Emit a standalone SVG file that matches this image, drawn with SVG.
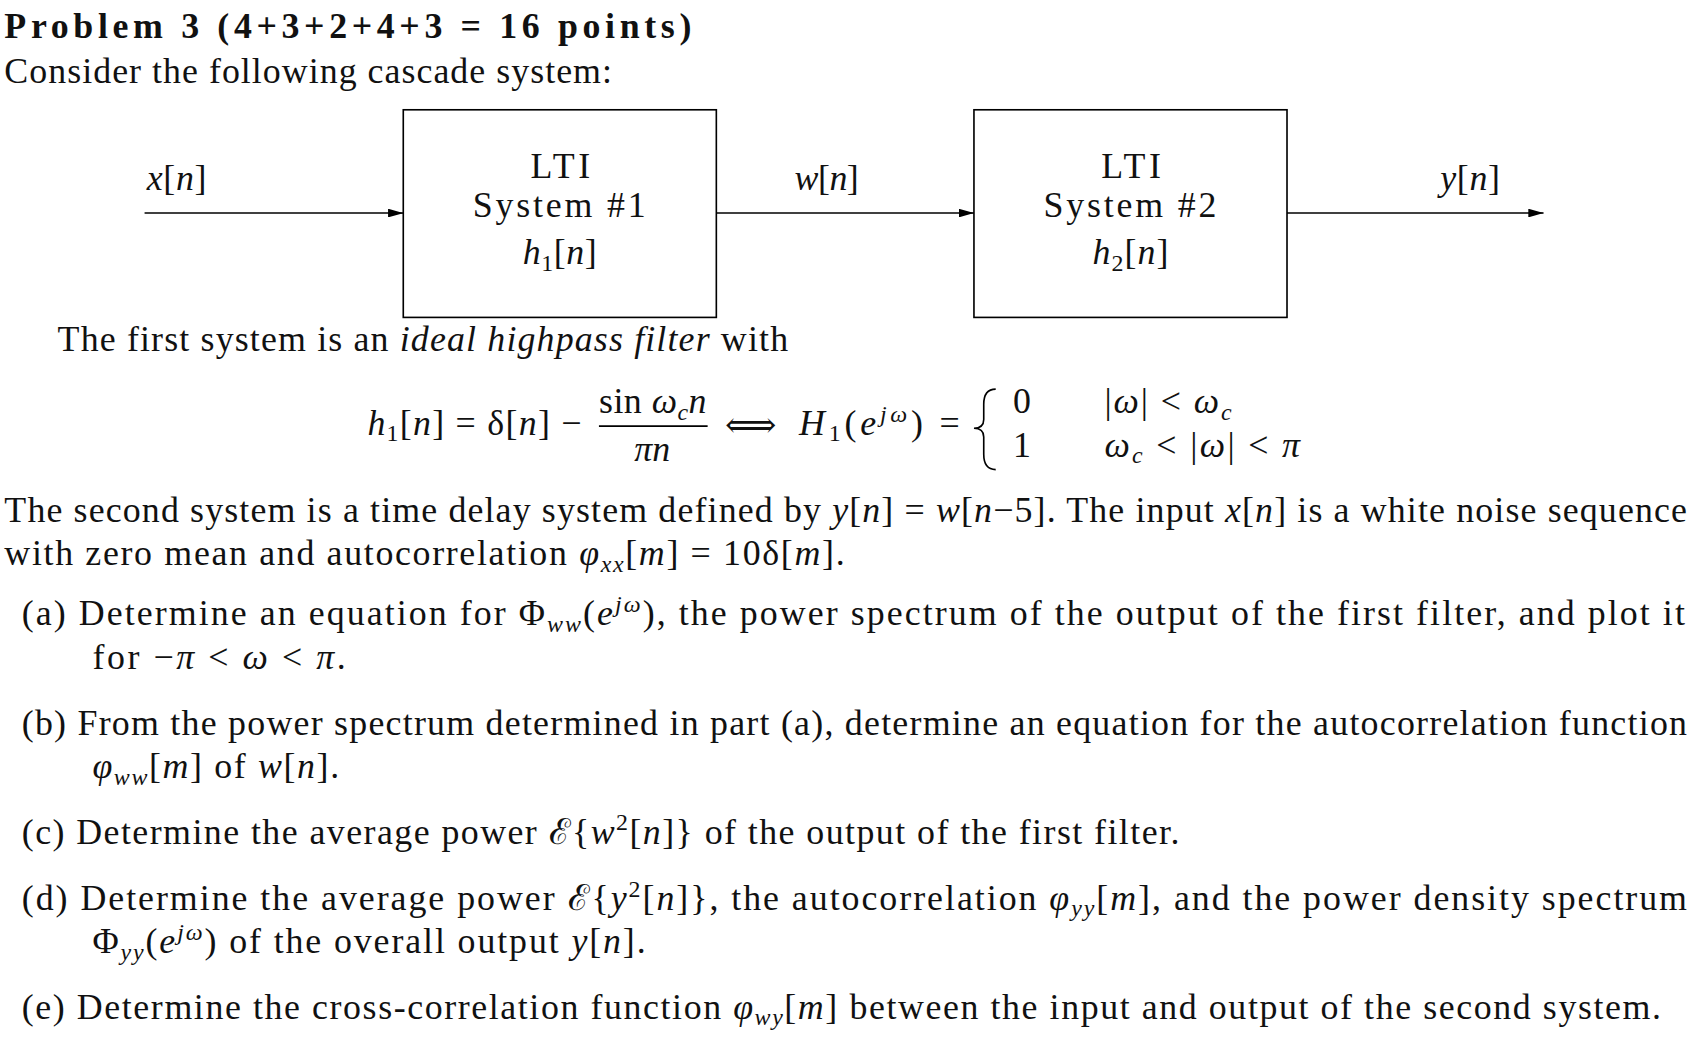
<svg xmlns="http://www.w3.org/2000/svg" width="1700" height="1037" viewBox="0 0 1700 1037">
<style>
text{font-family:"Liberation Serif","DejaVu Serif",serif;font-size:33px;fill:#111}
.i{font-style:italic}
.s{font-size:22px}
.b{font-weight:bold}
.box{fill:none;stroke:#000;stroke-width:1.5}
.ln{stroke:#000;stroke-width:1.5;fill:none}
</style>
<defs><marker id="ah" markerWidth="14" markerHeight="8" refX="14" refY="4" orient="auto" markerUnits="userSpaceOnUse"><path d="M0,0 L14,4 L0,8 Z" fill="#000"/></marker></defs>
<rect width="1700" height="1037" fill="#fff"/>
<g transform="scale(1.087)">
<text class="b" x="4" y="35" textLength="632">Problem 3 (4+3+2+4+3 = 16 points)</text>
<text x="4" y="76" textLength="559">Consider the following cascade system:</text>
<g id="connectors">
<line class="ln" x1="133" y1="196" x2="371" y2="196" marker-end="url(#ah)"/>
<line class="ln" x1="659" y1="196" x2="896" y2="196" marker-end="url(#ah)"/>
<line class="ln" x1="1184" y1="196" x2="1420" y2="196" marker-end="url(#ah)"/>
<text class="i" x="135" y="175" textLength="55">x<tspan font-style="normal">[</tspan>n<tspan font-style="normal">]</tspan></text>
<text class="i" x="731" y="175" textLength="59">w<tspan font-style="normal">[</tspan>n<tspan font-style="normal">]</tspan></text>
<text class="i" x="1325" y="175" textLength="55">y<tspan font-style="normal">[</tspan>n<tspan font-style="normal">]</tspan></text>
</g>
<g id="sys1">
<rect class="box" x="371" y="101" width="288" height="191"/>
<text x="488" y="164" textLength="55" font-size="31">LTI</text>
<text x="435" y="200" textLength="159">System #1</text>
<text x="481" y="243" textLength="68"><tspan class="i">h</tspan><tspan class="s" dy="6">1</tspan><tspan dy="-6">[</tspan><tspan class="i">n</tspan>]</text>
</g>
<g id="sys2">
<rect class="box" x="896" y="101" width="288" height="191"/>
<text x="1013" y="164" textLength="55" font-size="31">LTI</text>
<text x="960" y="200" textLength="159">System #2</text>
<text x="1005" y="243" textLength="70"><tspan class="i">h</tspan><tspan class="s" dy="6">2</tspan><tspan dy="-6">[</tspan><tspan class="i">n</tspan>]</text>
</g>
<text x="53" y="323" textLength="672">The first system is an <tspan class="i">ideal highpass filter</tspan> with</text>
<text x="338" y="400" textLength="197"><tspan class="i">h</tspan><tspan class="s" dy="6">1</tspan><tspan dy="-6">[</tspan><tspan class="i">n</tspan>] = δ[<tspan class="i">n</tspan>] −</text>
<text x="551" y="380" textLength="99">sin <tspan class="i">ω</tspan><tspan class="s i" dy="6">c</tspan><tspan class="i" dy="-6">n</tspan></text>
<line class="ln" x1="551" y1="392" x2="651" y2="392"/>
<text class="i" x="600" y="424" text-anchor="middle">πn</text>
<text x="667" y="402" textLength="53">⟺</text>
<text x="735" y="400" textLength="148"><tspan class="i">H</tspan><tspan class="s" dy="6">1</tspan><tspan dy="-6">(</tspan><tspan class="i">e</tspan><tspan class="s i" dy="-12">jω</tspan><tspan dy="12">) =</tspan></text>
<path class="ln" d="M916,358 Q905,358 905,372 L905,386 Q905,394 896,394 Q905,394 905,402 L905,418 Q905,432 916,432" stroke-width="2.5"/>
<text x="932" y="380">0</text>
<text x="932" y="420">1</text>
<text x="1016" y="380" textLength="117">|<tspan class="i">ω</tspan>| &lt; <tspan class="i">ω</tspan><tspan class="s i" dy="6">c</tspan></text>
<text x="1016" y="420" textLength="180"><tspan class="i">ω</tspan><tspan class="s i" dy="6">c</tspan><tspan dy="-6"> &lt; |</tspan><tspan class="i">ω</tspan>| &lt; <tspan class="i">π</tspan></text>
<text x="4" y="480" textLength="1548">The second system is a time delay system defined by <tspan class="i">y</tspan>[<tspan class="i">n</tspan>] = <tspan class="i">w</tspan>[<tspan class="i">n</tspan>−5]. The input <tspan class="i">x</tspan>[<tspan class="i">n</tspan>] is a white noise sequence</text>
<text x="4" y="520" textLength="773">with zero mean and autocorrelation <tspan class="i">φ</tspan><tspan class="s i" dy="6">xx</tspan><tspan dy="-6">[</tspan><tspan class="i">m</tspan>] = 10δ[<tspan class="i">m</tspan>].</text>
<text x="20" y="575" textLength="1530">(a) Determine an equation for Φ<tspan class="s i" dy="6">ww</tspan><tspan dy="-6">(</tspan><tspan class="i">e</tspan><tspan class="s i" dy="-12">jω</tspan><tspan dy="12">), the power spectrum of the output of the first filter, and plot it</tspan></text>
<text x="85" y="615" textLength="233">for −<tspan class="i">π</tspan> &lt; <tspan class="i">ω</tspan> &lt; <tspan class="i">π</tspan>.</text>
<text x="20" y="676" textLength="1532">(b) From the power spectrum determined in part (a), determine an equation for the autocorrelation function</text>
<text x="85" y="716" textLength="227"><tspan class="i">φ</tspan><tspan class="s i" dy="6">ww</tspan><tspan dy="-6">[</tspan><tspan class="i">m</tspan>] of <tspan class="i">w</tspan>[<tspan class="i">n</tspan>].</text>
<text x="20" y="776" textLength="1065">(c) Determine the average power ℰ{<tspan class="i">w</tspan><tspan class="s" dy="-12">2</tspan><tspan dy="12">[</tspan><tspan class="i">n</tspan>]} of the output of the first filter.</text>
<text x="20" y="837" textLength="1532">(d) Determine the average power ℰ{<tspan class="i">y</tspan><tspan class="s" dy="-12">2</tspan><tspan dy="12">[</tspan><tspan class="i">n</tspan>]}, the autocorrelation <tspan class="i">φ</tspan><tspan class="s i" dy="6">yy</tspan><tspan dy="-6">[</tspan><tspan class="i">m</tspan>], and the power density spectrum</text>
<text x="85" y="877" textLength="509">Φ<tspan class="s i" dy="6">yy</tspan><tspan dy="-6">(</tspan><tspan class="i">e</tspan><tspan class="s i" dy="-12">jω</tspan><tspan dy="12">) of the overall output </tspan><tspan class="i">y</tspan>[<tspan class="i">n</tspan>].</text>
<text x="20" y="937" textLength="1508">(e) Determine the cross-correlation function <tspan class="i">φ</tspan><tspan class="s i" dy="6">wy</tspan><tspan dy="-6">[</tspan><tspan class="i">m</tspan>] between the input and output of the second system.</text>
</g>
</svg>
